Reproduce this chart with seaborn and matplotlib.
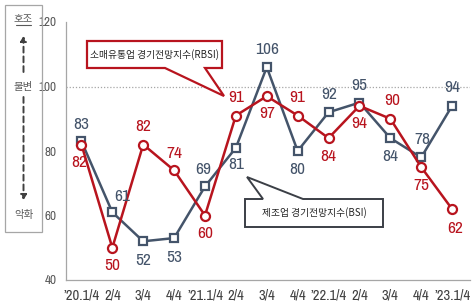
import numpy as np
import pandas as pd
import matplotlib.pyplot as plt
import seaborn as sns
from matplotlib.patches import Polygon, Rectangle, FancyArrowPatch

# Data
quarters = ["’20.1/4", "2/4", "3/4", "4/4", "’21.1/4", "2/4", "3/4", "4/4",
            "’22.1/4", "2/4", "3/4", "4/4", "’23.1/4"]
bsi = [83, 61, 52, 53, 69, 81, 106, 80, 92, 95, 84, 78, 94]
rbsi = [82, 50, 82, 74, 60, 91, 97, 91, 84, 94, 90, 75, 62]

# label offsets in pixels (dx, dy)
bsi_off = [(0, 17), (10, 16), (0, -19), (0, -19), (-2, 17), (0, -17), (0, 18),
           (0, -19), (1, 18), (0, 17), (0, -18), (1, 18), (0, 18)]
rbsi_off = [(-2, -18), (0, -18), (0, 18), (0, 17), (0, -18), (0, 18), (0, -17),
            (0, 18), (0, -18), (0, -18), (2, 18), (0, -18), (3, -19)]

RED = "#B8141E"
SLATE = "#44546A"
GRAY = "#595959"
KR = ["Noto Sans CJK KR", "DejaVu Sans"]

sns.set_theme(style="white")
plt.rcParams["font.family"] = ["Archivo Narrow", "Noto Sans CJK KR", "DejaVu Sans"]

W, H = 474, 305
fig = plt.figure(figsize=(W / 100, H / 100), dpi=100)
ax = fig.add_axes([66 / W, 1 - 280 / H, (470 - 66) / W, (280 - 22) / H])

df = pd.DataFrame({"x": np.arange(len(quarters)), "bsi": bsi, "rbsi": rbsi})

ax.axhline(100, color="#A6A6A6", lw=0.9, ls=(0, (1, 1.5)), zorder=1)

sns.lineplot(data=df, x="x", y="bsi", ax=ax, color=SLATE, lw=1.8, marker="s",
             markersize=6, markerfacecolor="white", markeredgecolor=SLATE,
             markeredgewidth=1.6, zorder=3)
sns.lineplot(data=df, x="x", y="rbsi", ax=ax, color=RED, lw=1.8, marker="o",
             markersize=6.5, markerfacecolor="white", markeredgecolor=RED,
             markeredgewidth=1.6, zorder=4)

for i, v in enumerate(bsi):
    dx, dy = bsi_off[i]
    ax.annotate(str(v), (i, v), xytext=(dx * 0.72, dy * 0.72), textcoords="offset points",
                ha="center", va="center", fontsize=12.5, color=SLATE, zorder=5)
for i, v in enumerate(rbsi):
    dx, dy = rbsi_off[i]
    ax.annotate(str(v), (i, v), xytext=(dx * 0.72, dy * 0.72), textcoords="offset points",
                ha="center", va="center", fontsize=12.5, color=RED, zorder=5)

ax.set_xlim(-0.485, 12.58)
ax.set_ylim(40, 120)
ax.set_yticks([40, 60, 80, 100, 120])
ax.set_xticks(np.arange(len(quarters)))
ax.set_xticklabels(quarters)
ax.set_xticks(np.arange(len(quarters)) - 0.5, minor=True)
ax.tick_params(axis="x", which="major", length=0, labelsize=10.5, colors="#404040", pad=6)
ax.tick_params(axis="x", which="minor", length=3, color="#A6A6A6", direction="in")
ax.tick_params(axis="y", length=2, color="#A6A6A6", labelsize=9.5, labelcolor=GRAY, pad=5)
ax.set_xlabel("")
ax.set_ylabel("")
for s in ["top", "right"]:
    ax.spines[s].set_visible(False)
for s in ["left", "bottom"]:
    ax.spines[s].set_color("#A6A6A6")
    ax.spines[s].set_linewidth(0.9)


def fp(x, y):
    return (x / W, 1 - y / H)


# left scale box
fig.patches.append(Rectangle(fp(5, 232), 37 / W, 227 / H, transform=fig.transFigure,
                             fill=False, ec="#A6A6A6", lw=0.9))
fig.text(*fp(23.5, 18), "호조", ha="center", va="center", fontsize=7.5, color=GRAY, family=KR)
fig.lines.append(plt.Line2D([16 / W, 31 / W], [1 - 25 / H, 1 - 25 / H],
                            transform=fig.transFigure, color=GRAY, lw=0.8))
fig.text(*fp(23.5, 87), "불변", ha="center", va="center", fontsize=7.5, color=GRAY, family=KR)
fig.text(*fp(23.5, 215), "악화", ha="center", va="center", fontsize=7.5, color=GRAY, family=KR)
for (y0, y1) in [(72, 36), (97, 200)]:
    fig.patches.append(FancyArrowPatch(fp(23.5, y0), fp(23.5, y1), transform=fig.transFigure,
                                       arrowstyle="-|>,head_length=3,head_width=1.8",
                                       ls=(0, (3, 2)), color="#404040", lw=1.4,
                                       shrinkA=0, shrinkB=0))

# RBSI callout
pts = [(87, 41), (222, 41), (222, 68), (205, 68), (224, 96), (165, 68), (87, 68)]
fig.patches.append(Polygon([fp(*p) for p in pts], closed=True, transform=fig.transFigure,
                           fc="white", ec=RED, lw=1.6, zorder=10))
fig.text(*fp(155, 55), "소매유통업 경기전망지수(RBSI)", ha="center", va="center", fontsize=7,
         color="#262626", family=KR, zorder=11)

# BSI callout
pts = [(245, 199), (263, 199), (247, 177), (303, 199), (383, 199), (383, 227), (245, 227)]
fig.patches.append(Polygon([fp(*p) for p in pts], closed=True, transform=fig.transFigure,
                           fc="white", ec="#3B3F46", lw=1.4, zorder=10))
fig.text(*fp(314, 213), "제조업 경기전망지수(BSI)", ha="center", va="center", fontsize=7,
         color="#262626", family=KR, zorder=11)

fig.savefig("out.png", dpi=100)
